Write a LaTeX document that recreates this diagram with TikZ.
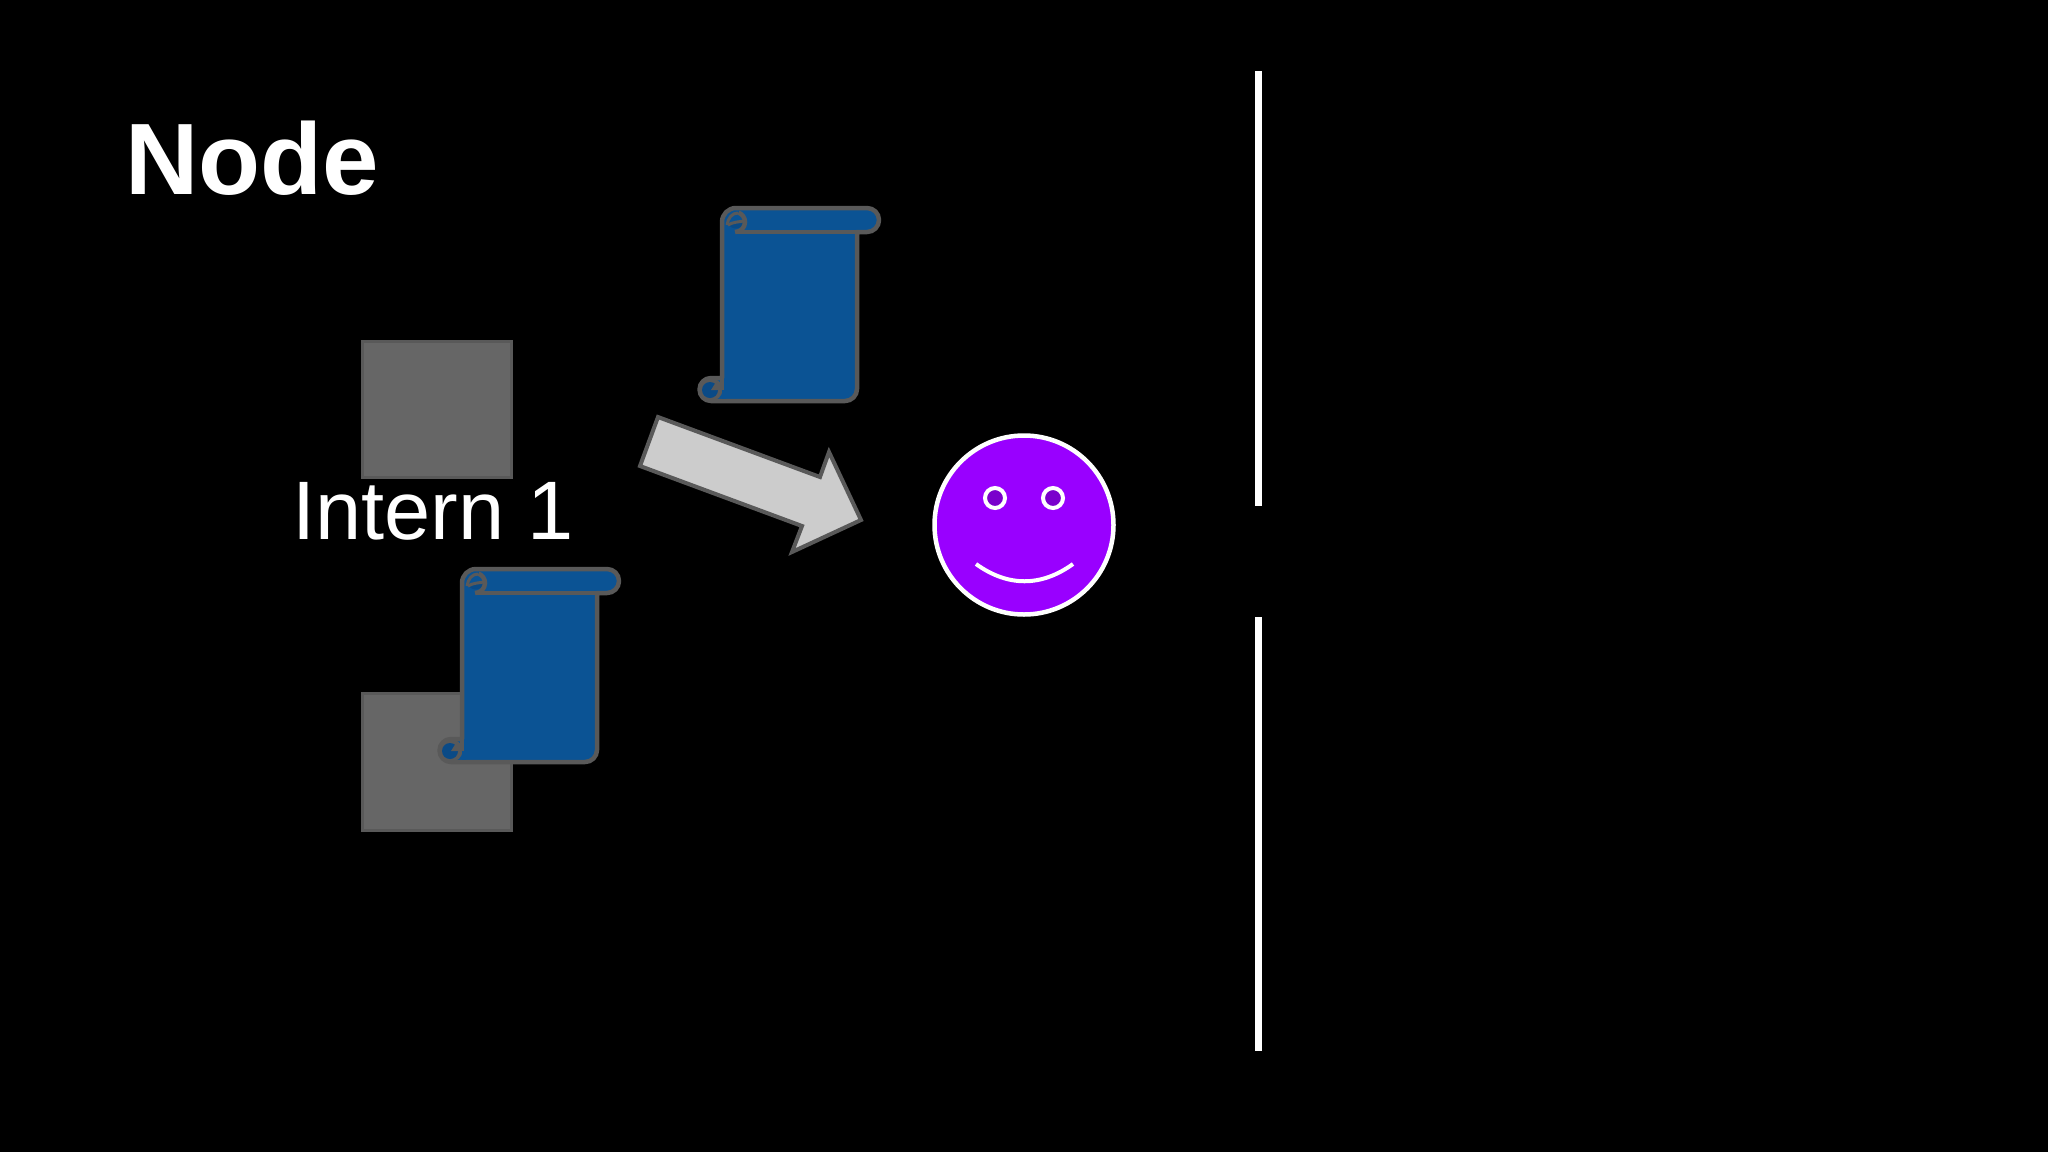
\documentclass[tikz,border=0pt]{standalone}
\usepackage{fontspec}
\setmainfont{Liberation Sans}
\definecolor{scrollblue}{HTML}{0B5394}
\definecolor{rollblue}{HTML}{0A4A86}
\definecolor{edgegrey}{HTML}{595959}
\definecolor{squaregrey}{HTML}{666666}
\definecolor{arrowgrey}{HTML}{CCCCCC}
\definecolor{facepurple}{HTML}{9900FF}
\definecolor{eyepurple}{HTML}{7A00CC}
\tikzset{
  squarebox/.style={draw=edgegrey,fill=squaregrey,line width=3pt},
  scrollpart/.style={draw=edgegrey,fill=scrollblue,line width=4.5pt,line join=round},
  scrollline/.style={draw=edgegrey,line width=4.5pt},
  bigarrow/.style={draw=edgegrey,fill=arrowgrey,line width=4pt,line join=miter},
  facebody/.style={draw=white,fill=facepurple,line width=4.5pt},
  faceeye/.style={draw=white,fill=eyepurple,line width=4pt},
  facemouth/.style={draw=white,line width=4pt},
  divider/.style={draw=white,line width=7pt},
  title/.style={text=white,inner sep=0pt,anchor=base west,font=\fontsize{101.5}{120}\selectfont\bfseries},
  label/.style={text=white,inner sep=0pt,anchor=base west,font=\fontsize{83}{100}\selectfont}
}
\newcommand{\drawscroll}[2]{%
  \begin{scope}[shift={(#1,#2)}]
    % sheet outline: top roll, right side, bottom roll
    \path[scrollpart]
      (722,222) arc[start angle=-180,end angle=-90,radius=14] -- (867,208)
      arc[start angle=-90,end angle=90,radius=12] -- (857,232) -- (857,389)
      arc[start angle=0,end angle=90,radius=12] -- (711,401)
      arc[start angle=90,end angle=270,radius=11.5] -- (722,378) -- cycle;
    % top roll
    \path[scrollline] (736,232) -- (857,232);
    \fill[rollblue] (728,224) -- (744,222) .. controls (743,229) and (732,231) .. (728,224) -- cycle;
    \path[scrollline] (735,232) arc[start angle=90,end angle=-70,radius=10];
    \draw[edgegrey,line width=3pt] (728,225) .. controls (733,222) and (738,222) .. (744,221);
    \draw[edgegrey,line width=3pt] (738,213) .. controls (732,213) and (728,218) .. (727,225);
    % bottom roll
    \fill[edgegrey] (711,389.5) circle[radius=11.5];
    \fill[rollblue] (710,390) circle[radius=8];
    \fill[edgegrey] (711,390) -- (716,382) -- (720,382) -- (720,390) -- cycle;
    \fill[scrollblue] (722,380) rectangle (726,399);
    \path[scrollline] (722,378) -- (722,390);
  \end{scope}}
\begin{document}
\begin{tikzpicture}[x=1pt,y=-1pt]
  \useasboundingbox (0,0) rectangle (2048,1152);
  \fill[black] (0,0) rectangle (2048,1152);
  \node[title] (nodetitle) at (125,194) {Node};
  \path[squarebox] (362,341.5) rectangle (511,477);
  \node[label] (intern) at (292,539) {Intern 1};
  \path[squarebox] (362,693.5) rectangle (511,830);
  \drawscroll{0}{0}
  \drawscroll{-260}{361}
  \path[bigarrow] (658,417) -- (820,477) -- (829,452) -- (861,520) -- (792,552) -- (802,526) -- (640,466) -- cycle;
  \path[facebody] (1024,525) circle[radius=89.5];
  \path[faceeye] (995,498) circle[radius=10];
  \path[faceeye] (1053,498) circle[radius=10];
  \path[facemouth] (976,564) .. controls (1008,587) and (1041,587) .. (1073,564);
  \path[divider] (1258.5,71) -- (1258.5,506);
  \path[divider] (1258.5,617) -- (1258.5,1051);
\end{tikzpicture}
\end{document}
